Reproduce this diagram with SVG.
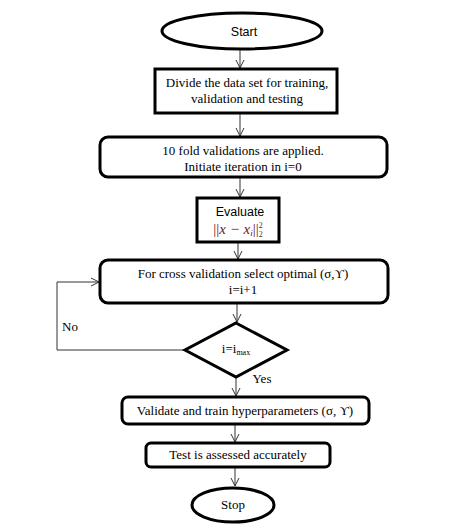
<svg xmlns="http://www.w3.org/2000/svg" width="474" height="526" viewBox="0 0 474 526">
<style>
.box{fill:#fff;stroke:#000;stroke-width:3}
.ln{fill:none;stroke:#333;stroke-width:1}
.t{font-family:"Liberation Serif","Times New Roman",serif;font-size:13px;fill:#000;text-anchor:middle}
.s{font-family:"Liberation Sans",Arial,sans-serif;font-size:12.5px;fill:#000;text-anchor:middle}
.m{font-family:"Liberation Serif",serif;font-style:italic;font-size:15px;fill:#6b2020;text-anchor:middle}
</style>
<defs>
<marker id="ar" markerWidth="10" markerHeight="10" refX="9" refY="5" orient="auto" markerUnits="userSpaceOnUse">
<path d="M1,1 L9,5 L1,9" fill="none" stroke="#333" stroke-width="1"/>
</marker>
</defs>
<rect width="474" height="526" fill="#fff"/>
<g id="connectors">
<line class="ln" x1="240" y1="50" x2="240" y2="68" marker-end="url(#ar)"/>
<line class="ln" x1="240" y1="114" x2="240" y2="136" marker-end="url(#ar)"/>
<line class="ln" x1="240" y1="178" x2="240" y2="197" marker-end="url(#ar)"/>
<line class="ln" x1="238" y1="243" x2="238" y2="259" marker-end="url(#ar)"/>
<line class="ln" x1="237" y1="304" x2="237" y2="322" marker-end="url(#ar)"/>
<polyline class="ln" points="185,350 57,350 57,282 99,282" marker-end="url(#ar)"/>
<line class="ln" x1="236" y1="377" x2="236" y2="396" marker-end="url(#ar)"/>
<line class="ln" x1="235" y1="425" x2="235" y2="442" marker-end="url(#ar)"/>
<line class="ln" x1="235" y1="468" x2="235" y2="486" marker-end="url(#ar)"/>
<text class="t" x="70" y="331" font-size="12">No</text>
<text class="t" x="262" y="383" font-size="12">Yes</text>
</g>
<g id="start">
<ellipse class="box" cx="242" cy="31" rx="80" ry="18"/>
<text class="s" x="244" y="36" font-size="13">Start</text>
</g>
<g id="divide">
<rect class="box" x="155" y="69" width="182" height="44"/>
<text class="t" x="247" y="87">Divide the data set for training,</text>
<text class="t" x="247" y="103">validation and testing</text>
</g>
<g id="fold">
<rect class="box" x="100" y="137" width="287" height="40" rx="8"/>
<text class="t" x="243" y="155">10 fold validations are applied.</text>
<text class="t" x="243" y="171">Initiate iteration in i=0</text>
</g>
<g id="evaluate">
<rect class="box" x="197" y="198" width="82" height="44"/>
<text class="s" x="240" y="216">Evaluate</text>
<text class="m" x="238" y="234"><tspan font-style="normal">||</tspan>x − x<tspan font-size="9" dy="2">i</tspan><tspan font-style="normal" dy="-2">||</tspan><tspan font-style="normal" font-size="8" dy="-6">2</tspan><tspan font-style="normal" font-size="8" dx="-4" dy="9">2</tspan></text>
</g>
<g id="cross">
<rect class="box" x="100" y="260" width="288" height="43" rx="8"/>
<text class="t" x="243" y="278">For cross validation select optimal (σ,ϒ)</text>
<text class="t" x="243" y="294">i=i+1</text>
</g>
<g id="decision">
<polygon class="box" points="236,323 287,350 236,377 185,350"/>
<text class="t" x="236" y="353" font-size="12">i=i<tspan font-size="8" dy="2">max</tspan></text>
</g>
<g id="validate">
<rect class="box" x="122" y="397" width="247" height="27" rx="6"/>
<text class="t" x="245" y="415">Validate and train hyperparameters (σ, ϒ)</text>
</g>
<g id="test">
<rect class="box" x="146" y="443" width="184" height="24" rx="5"/>
<text class="t" x="238" y="459">Test is assessed accurately</text>
</g>
<g id="stop">
<ellipse class="box" cx="233" cy="505" rx="41" ry="17"/>
<text class="t" x="233" y="509">Stop</text>
</g>
</svg>
